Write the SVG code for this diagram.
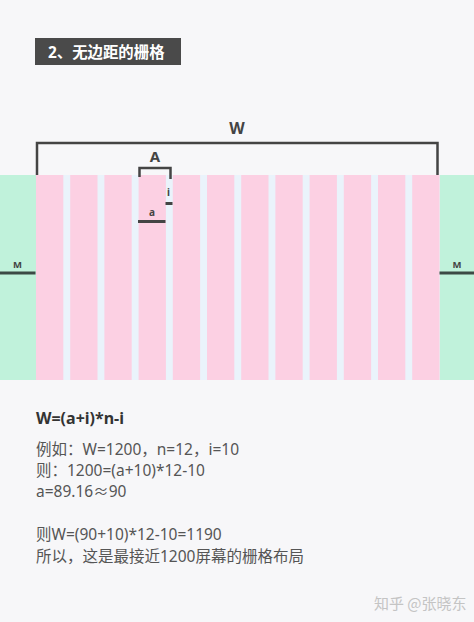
<svg xmlns="http://www.w3.org/2000/svg" width="474" height="622" viewBox="0 0 474 622">
<style>
.col{fill:#fcd0e3}
.br{fill:none;stroke:#444;stroke-width:2.5}
.lab{font-family:"Noto Sans","Noto Sans CJK SC",sans-serif;font-weight:bold;fill:#444;text-anchor:middle}
.txt{font-family:"Noto Sans","Noto Sans CJK SC",sans-serif;font-size:15.5px;fill:#555}
</style>
<rect x="0" y="0" width="474" height="622" fill="#f7f7f9"/>
<g id="title">
<rect x="35" y="38" width="146" height="27" fill="#4a4a4a"/>
<text x="48" y="57.5" font-family="'Noto Sans','Noto Sans CJK SC',sans-serif" font-weight="bold" font-size="15.4" fill="#fff">2、无边距的栅格</text>
</g>
<g id="margins">
<rect x="0" y="175" width="36" height="205" fill="#c0f2db"/>
<rect x="439.5" y="175" width="34.5" height="205" fill="#c0f2db"/>
</g>
<g id="grid">
<rect x="36" y="175" width="403.5" height="205" fill="#eaf3fb"/>
<rect class="col" x="36" y="175" width="27.3" height="205"/>
<rect class="col" x="70.2" y="175" width="27.3" height="205"/>
<rect class="col" x="104.4" y="175" width="27.3" height="205"/>
<rect class="col" x="138.6" y="175" width="27.3" height="205"/>
<rect class="col" x="172.8" y="175" width="27.3" height="205"/>
<rect class="col" x="207" y="175" width="27.3" height="205"/>
<rect class="col" x="241.2" y="175" width="27.3" height="205"/>
<rect class="col" x="275.4" y="175" width="27.3" height="205"/>
<rect class="col" x="309.6" y="175" width="27.3" height="205"/>
<rect class="col" x="343.8" y="175" width="27.3" height="205"/>
<rect class="col" x="378" y="175" width="27.3" height="205"/>
<rect class="col" x="412.2" y="175" width="27.3" height="205"/>
</g>
<g id="connectors">
<path class="br" d="M37 175V143H437.5V175"/>
<path class="br" d="M139.5 177V168H170.5V179"/>
<line x1="165.5" y1="203.5" x2="172.5" y2="203.5" stroke="#444" stroke-width="3"/>
<line x1="138" y1="221.5" x2="165.5" y2="221.5" stroke="#444" stroke-width="3"/>
<line x1="0" y1="273" x2="35.5" y2="273" stroke="#3c4a45" stroke-width="3"/>
<line x1="439.5" y1="273" x2="474" y2="273" stroke="#3c4a45" stroke-width="3"/>
</g>
<g id="labels">
<text class="lab" x="237" y="133.5" font-size="16">W</text>
<text class="lab" x="155" y="161.5" font-size="15">A</text>
<text class="lab" x="168.5" y="196" font-size="10">i</text>
<text class="lab" x="152" y="216" font-size="10">a</text>
<text class="lab" x="17.5" y="267.5" font-size="9.5">M</text>
<text class="lab" x="457" y="267.5" font-size="9.5">M</text>
</g>
<g id="formula">
<text x="36" y="423.5" font-family="'Noto Sans','Noto Sans CJK SC',sans-serif" font-weight="bold" font-size="16" fill="#333">W=(a+i)*n-i</text>
<text class="txt" x="36" y="455">例如：W=1200，n=12，i=10</text>
<text class="txt" x="36" y="476">则：1200=(a+10)*12-10</text>
<text class="txt" x="36" y="497">a=89.16≈90</text>
<text class="txt" x="36" y="540">则W=(90+10)*12-10=1190</text>
<text class="txt" x="36" y="562">所以，这是最接近1200屏幕的栅格布局</text>
</g>
<text x="374" y="609" font-family="'Noto Sans CJK SC','Noto Sans',sans-serif" font-size="15" fill="#c4c4c4">知乎 @张晓东</text>
</svg>
